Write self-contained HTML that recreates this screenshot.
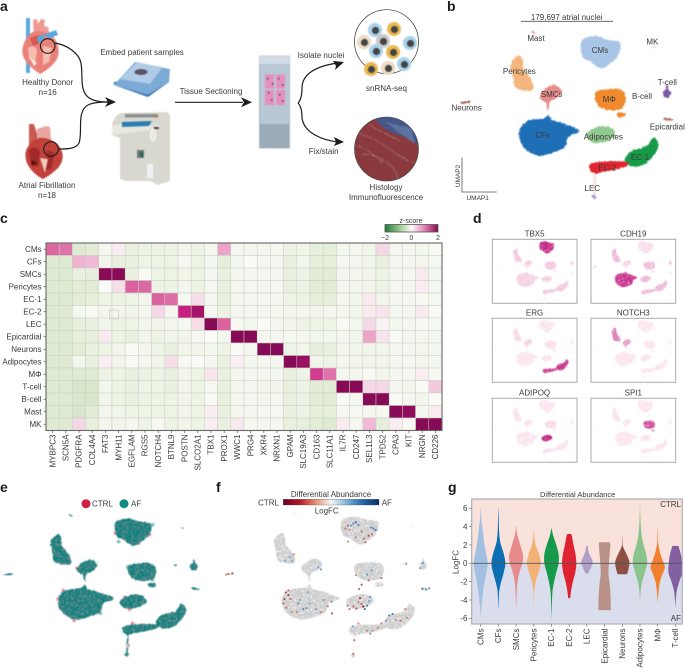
<!DOCTYPE html>
<html><head><meta charset="utf-8"><title>Atrial nuclei figure</title>
<style>
html,body{margin:0;padding:0;background:#fff}
svg{display:block;font-family:"Liberation Sans",sans-serif;fill:#333}
text{font-size:8px;fill:#3a3a3a}
.let{font-size:14px;font-weight:bold;fill:#1a1a1a}
</style></head>
<body>
<svg id="fig" width="685" height="668" viewBox="0 0 685 668" xmlns="http://www.w3.org/2000/svg">
<defs>
<filter id="soft" color-interpolation-filters="sRGB"><feGaussianBlur stdDeviation="0.45"/></filter>
<filter id="soft2" color-interpolation-filters="sRGB" x="-100%" y="-100%" width="300%" height="300%"><feGaussianBlur stdDeviation="0.8"/></filter>
<filter id="rough" color-interpolation-filters="sRGB" filterUnits="userSpaceOnUse" x="0" y="0" width="685" height="668"><feTurbulence type="fractalNoise" baseFrequency="0.4" numOctaves="2" seed="3" result="n"/><feDisplacementMap in="SourceGraphic" in2="n" scale="3" xChannelSelector="R" yChannelSelector="G"/><feGaussianBlur stdDeviation="0.4"/></filter>
<filter id="holes" color-interpolation-filters="sRGB" filterUnits="userSpaceOnUse" x="0" y="0" width="685" height="668"><feTurbulence type="fractalNoise" baseFrequency="0.55" numOctaves="2" seed="7"/><feColorMatrix type="matrix" values="0 0 0 0 0  0 0 0 0 0  0 0 0 0 0  7 0 0 0 -2.1" result="a"/><feComposite in="SourceGraphic" in2="a" operator="in" result="c"/><feGaussianBlur in="c" stdDeviation="0.4"/></filter>
<filter id="holesD" color-interpolation-filters="sRGB" filterUnits="userSpaceOnUse" x="0" y="0" width="685" height="668"><feTurbulence type="fractalNoise" baseFrequency="0.6" numOctaves="2" seed="5"/><feColorMatrix type="matrix" values="0 0 0 0 0  0 0 0 0 0  0 0 0 0 0  5 0 0 0 -1.1" result="a"/><feComposite in="SourceGraphic" in2="a" operator="in" result="c"/><feGaussianBlur in="c" stdDeviation="0.6"/></filter>
<filter id="mottle" color-interpolation-filters="sRGB" filterUnits="userSpaceOnUse" x="0" y="0" width="685" height="668"><feTurbulence type="fractalNoise" baseFrequency="0.45" numOctaves="2" seed="11" result="t"/><feColorMatrix in="t" type="matrix" values="0 0 0 0 .04  0 0 0 0 .5  0 0 0 0 .49  6 0 0 0 -2.3" result="m"/><feComposite in="m" in2="SourceAlpha" operator="in" result="m2"/><feMerge result="all"><feMergeNode in="SourceGraphic"/><feMergeNode in="m2"/></feMerge><feDisplacementMap in="all" in2="t" scale="2.5" xChannelSelector="R" yChannelSelector="G"/><feGaussianBlur stdDeviation="0.4"/></filter>
<linearGradient id="zgrad" x1="0" x2="1" y1="0" y2="0"><stop offset="0" stop-color="#1f7a35"/><stop offset=".25" stop-color="#8fc484"/><stop offset=".5" stop-color="#fbfbf8"/><stop offset=".75" stop-color="#e080b0"/><stop offset="1" stop-color="#870a56"/></linearGradient>
<linearGradient id="dagrad" x1="0" x2="1" y1="0" y2="0"><stop offset="0" stop-color="#67001f"/><stop offset=".17" stop-color="#b2182b"/><stop offset=".33" stop-color="#e58a6a"/><stop offset=".5" stop-color="#f7f7f7"/><stop offset=".67" stop-color="#74afd3"/><stop offset=".83" stop-color="#2166ac"/><stop offset="1" stop-color="#053061"/></linearGradient>
<clipPath id="histclip"><circle cx="386.5" cy="149" r="32"/></clipPath>
</defs>

<g>
<text class="let" x="0" y="11">a</text>
<text class="let" x="447" y="11">b</text>
<text class="let" x="0" y="223">c</text>
<text class="let" x="473" y="223">d</text>
<text class="let" x="0" y="492">e</text>
<text class="let" x="216" y="492">f</text>
<text class="let" x="448" y="492">g</text>
</g>

<g>
 <g filter="url(#soft)">
  <path d="M26 18h4v55h-4z" fill="#5aa9dc"/>
  <path d="M33 20l4-1 1 5 3-5 4 1-1 6 4 1 2 10-16 2z" fill="#ee9a92"/>
  <path d="M30 34C36 28 48 32 54 38C60 46 60 56 55 62C50 68 44 72 40 74C34 70 26 64 23 56C21 48 24 40 30 34Z" fill="#ea8179"/>
  <path d="M28 48c4-3 8-2 9 3l-2 12-6-4zM43 46l9 2-3 14-6 3z" fill="#f5bfb0"/>
  <path d="M30 58l7 5-3 3z" fill="#fff2e4"/>
  <path d="M30 38l8-3 2 8-7 3z" fill="#d65650"/>
  <path d="M37 37L56 30l2 5-20 8z" fill="#5aa9dc"/>
  <path d="M44 36l3 0 3 10-6 0z" fill="#ea8179"/>
 </g>
 <circle cx="47.7" cy="46" r="7.3" fill="none" stroke="#1c1c1c" stroke-width="1.1"/>
 <text x="47.7" y="85" text-anchor="middle">Healthy Donor</text>
 <text x="47.7" y="95" text-anchor="middle">n=16</text>

 <g filter="url(#soft)">
  <path d="M29 124l5 0 3 10 2 8-10 4z" fill="#c65a52"/>
  <path d="M37 129l9-3 4 1 1 13-14 3z" fill="#eaa69e"/>
  <path d="M33 141C42 134 54 140 59 146C65 154 63 162 58 168C53 173 47 177 43 179C35 175 28 168 26 160C24 152 27 146 33 141Z" fill="#c2423b"/>
  <path d="M29 150c5-4 10-3 11 3l-2 14-7-3zM47 150l8 3-4 16-5 1z" fill="#a12a2a"/>
  <path d="M40 158l8 1-3 14z" fill="#eecbb8"/>
  <path d="M31 160l7 3-6 3z" fill="#5e1111"/>
 </g>
 <circle cx="51" cy="149" r="7.3" fill="none" stroke="#1c1c1c" stroke-width="1.1"/>
 <text x="47" y="188" text-anchor="middle">Atrial Fibrillation</text>
 <text x="47" y="198" text-anchor="middle">n=18</text>

 <g fill="none" stroke="#1d1d1d" stroke-width="1.2">
  <path d="M55 43c12 2 24 10 26 20 2 12-1 24 5 32 3 4 9 7 22 7"/>
  <path d="M59 149c8 0 17 0 20-6 3-8 0-24 3-30 2-8 8-11 26-11"/>
 </g>
 <path d="M116 102l-11-5 3 5-3 5z" fill="#1d1d1d"/>

 <text x="142" y="55" text-anchor="middle">Embed patient samples</text>
 <g filter="url(#soft)">
  <path d="M114 85l34 12 21-15v-6l-55 6z" fill="#2d6db0"/>
  <path d="M114 85L135 62l35 7-1 13-21 13z" fill="#7baad6"/>
  <path d="M120 79L137 62l25 6-12 16z" fill="#afcbe6"/>
  <ellipse cx="141" cy="72" rx="6.5" ry="3" fill="#5e5366"/>
 </g>
 <g filter="url(#soft)">
  <path d="M112 125c1-6 5-11 9-12l44-1c3 0 5 2 5 5v64l-12 4-8-4h-24l-6-2v-41l-8-3z" fill="#d9d8d0"/>
  <path d="M112 125h48v4l-48 6z" fill="#e8e7e0"/>
  <path d="M122 122l30-1-3 5-27 1z" fill="#2d7db0"/>
  <path d="M125 114h33v3.500h-33z" fill="#8f9094"/>
  <path d="M137 150h7v8h-7z" fill="#6f7770"/><path d="M140 152h3v5h-3z" fill="#1d6a5e"/>
  <path d="M147 164h6v14h-6z" fill="#eef2f5"/>
  <ellipse cx="153" cy="135" rx="4.500" ry="8" fill="#ebeae3" stroke="#bdbcb4" stroke-width=".5"/>
  <path d="M154 127h5v2h-5z" fill="#444"/>
  <circle cx="157" cy="116" r="1.2" fill="#c6702e"/>
 </g>

 <text x="211" y="94" text-anchor="middle">Tissue Sectioning</text>
 <path d="M175 102.300h68" stroke="#1d1d1d" stroke-width="1.2"/>
 <path d="M252 102.300l-11-5 3 5-3 5z" fill="#1d1d1d"/>

 <g filter="url(#soft)">
  <rect x="259.500" y="56" width="30" height="92" fill="#b9c8d5" stroke="#8a9cab" stroke-width=".6"/>
  <path d="M259.500 56h30v8h-30z" fill="#d0dbe3"/>
  <rect x="259.500" y="124" width="30" height="24" fill="#9aabba"/>
  <rect x="265" y="74.500" width="9" height="14" fill="#e68fba"/>
  <rect x="276" y="74.500" width="9" height="14" fill="#e68fba"/>
  <rect x="265" y="90" width="9" height="15" fill="#e68fba"/>
  <rect x="276" y="90" width="9" height="15" fill="#e68fba"/>
  <path d="M267 78h1.500v1.500h-1.500zM272 83h1.500v1.500h-1.500zM278 78h1.500v1.500h-1.500zM282 84h1.500v1.500h-1.500zM268 92h1.500v1.500h-1.500zM271 99h1.500v1.500h-1.500zM279 94h1.500v1.500h-1.500zM282 100h1.500v1.500h-1.500z" fill="#3b3e86"/>
 </g>

 <g fill="none" stroke="#1d1d1d" stroke-width="1.2">
  <path d="M298 103c3-3 4-8 4-15 0-14 14-22 36-25"/>
  <path d="M298 103c3 3 4 8 4 15 2 15 20 22 36 24"/>
 </g>
 <path d="M344 62l-11-1 3 5-1 4z" fill="#1d1d1d"/>
 <path d="M344 142l-10-5 2 5-2 4z" fill="#1d1d1d"/>
 <text x="321" y="58" text-anchor="middle">Isolate nuclei</text>
 <text x="323.700" y="154" text-anchor="middle">Fix/stain</text>

 <circle cx="386.500" cy="41.700" r="32" fill="#fff" stroke="#333" stroke-width=".7"/>
 <g id="cells" filter="url(#soft)"></g>
 <text x="386.500" y="91" text-anchor="middle">snRNA-seq</text>

 <g clip-path="url(#histclip)">
  <g filter="url(#rough)">
  <rect x="350" y="112" width="74" height="74" fill="#8a3a3e"/>
  <path d="M368 112h56v38c-8-8-18-12-26-15-10-3-20-11-30-23z" fill="#45568a"/>
  <g fill="none" stroke="#c9b0b8" stroke-width=".6" stroke-opacity=".55">
   <path d="M355 132c14 4 26 10 36 18 8 6 18 12 28 14"/>
   <path d="M360 155c10-3 20 2 30 10 4 3 6 8 8 14"/>
   <path d="M370 125c8 6 20 10 30 16"/>
   <path d="M352 145c12 2 22 8 30 18"/>
  </g>
  <path d="M385 122l30 22-4-16z" fill="#7a8fb5" opacity=".5"/>
  </g>
 </g>
 <circle cx="386.500" cy="149" r="32" fill="none" stroke="#444" stroke-width=".6"/>
 <text x="386" y="190" text-anchor="middle">Histology</text>
 <text x="386" y="200" text-anchor="middle">Immunofluorescence</text>
</g>

<g>
 <text x="566.700" y="20" text-anchor="middle">179,697 atrial nuclei</text>
 <path d="M521 21.300h92" stroke="#555" stroke-width=".8"/>
 <g id="umapB" filter="url(#rough)"></g>
 <g id="umapBLabels"></g>
 <path d="M462 157.500V192h34.700" fill="none" stroke="#555" stroke-width=".8"/>
 <text x="477.700" y="200" text-anchor="middle" style="font-size:6.500px">UMAP1</text>
 <text transform="translate(460,176) rotate(-90)" text-anchor="middle" style="font-size:6.500px">UMAP2</text>
</g>

<g>
 <g id="heat"></g>
 <rect x="46" y="243" width="396" height="187.500" fill="none" stroke="#666" stroke-width="1.1"/>
 <g id="heatAxes"></g>
 <text x="411" y="223" text-anchor="middle" style="font-size:7px">z-score</text>
 <rect x="385" y="224.500" width="53" height="7.500" fill="url(#zgrad)" stroke="#555" stroke-width=".8"/>
 <text x="385" y="240" text-anchor="middle" style="font-size:7px">−2</text>
 <text x="411.500" y="240" text-anchor="middle" style="font-size:7px">0</text>
 <text x="438" y="240" text-anchor="middle" style="font-size:7px">2</text>
</g>

<g id="panelD"></g>

<g>
 <circle cx="86" cy="503.700" r="4.500" fill="#d11f45"/>
 <text x="92" y="506.500">CTRL</text>
 <circle cx="124" cy="503.700" r="4.500" fill="#0f8a85"/>
 <text x="131" y="506.500">AF</text>
 <g id="umapEAccents"></g>
 <g id="umapE" filter="url(#mottle)"></g>
</g>

<g>
 <text x="331" y="497" text-anchor="middle">Differential Abundance</text>
 <rect x="283.300" y="499.300" width="95.700" height="5.700" fill="url(#dagrad)" stroke="#444" stroke-width=".3"/>
 <text x="279" y="505.500" text-anchor="end">CTRL</text>
 <text x="381.700" y="505.500">AF</text>
 <text x="326.700" y="513.500" text-anchor="middle">LogFC</text>
 <g id="umapF" filter="url(#holes)"></g>
 <g id="umapFSpots"></g>
</g>

<g>
 <text x="577.700" y="497" text-anchor="middle" style="font-size:7.500px">Differential Abundance</text>
 <g id="violins"></g>
</g>
</svg>

<script>
// ---------- chart data ----------
const heatRows = ["CMs","CFs","SMCs","Pericytes","EC-1","EC-2","LEC","Epicardial","Neurons","Adipocytes","MΦ","T-cell","B-cell","Mast","MK"];
const heatGenes = ["MYBPC3","SCN5A","PDGFRA","COL4A4","FAT3","MYH11","EGFLAM","RGS5","NOTCH4","BTNL9","POSTN","SLCO2A1","TBX1","PROX1","WWC1","PRG4","XKR4","NRXN1","GPAM","SLC19A3","CD163","SLC11A1","IL7R","CD247","SEL1L3","TPD52","CPA3","KIT","NRGN","CD226"];
const heatValues = [
[1.15,1.05,-.4,-.35,-.1,.12,-.25,-.2,-.2,-.2,-.12,-.2,-.1,.65,-.1,-.1,-.1,-.08,-.2,-.15,-.3,-.3,-.1,-.1,-.15,.3,-.1,-.1,-.12,-.05],
[-.4,-.4,.55,.5,-.15,-.25,-.25,-.2,-.2,-.2,-.08,-.2,-.1,-.3,-.1,-.02,-.1,-.1,-.25,-.15,-.3,-.3,-.1,-.1,-.15,-.25,-.1,-.1,-.12,-.08],
[-.4,-.4,-.25,-.3,1.98,1.98,-.25,-.05,-.2,-.2,-.15,-.2,-.1,-.25,-.1,-.1,-.1,-.1,-.25,-.2,-.35,-.35,-.1,-.12,-.15,-.2,-.1,-.1,.15,-.1],
[-.4,-.4,-.35,-.35,-.02,.25,1.2,1.15,-.2,-.2,-.12,-.2,-.1,-.25,-.1,-.1,-.1,-.1,-.25,-.2,-.35,-.35,-.1,-.12,-.15,-.2,-.1,-.1,.12,-.1],
[-.4,-.4,-.35,-.3,-.2,-.2,-.2,-.12,1.2,1.1,-.08,.25,-.1,-.25,-.1,-.1,-.1,-.1,-.2,-.2,-.3,-.3,-.1,-.15,.15,-.15,-.1,-.1,-.05,-.08],
[-.4,-.4,-.08,-.05,-.1,-.1,-.15,-.1,.3,-.1,1.65,1.85,-.1,-.2,-.1,-.1,-.1,-.1,-.12,-.08,-.12,-.1,-.1,-.15,.15,.2,-.1,-.1,.15,-.05],
[-.4,-.4,-.3,-.25,-.15,-.2,-.2,-.12,-.15,-.12,-.08,.25,2,1.2,-.05,-.1,-.02,-.1,-.15,-.2,-.2,-.2,-.03,-.12,.3,.08,-.1,-.1,-.05,-.08],
[-.4,-.4,-.3,-.3,.15,-.2,-.25,-.15,-.2,-.15,-.15,-.08,-.02,-.1,2,2,-.1,-.1,-.08,-.08,-.12,-.12,-.1,-.15,.65,.2,-.03,-.12,-.1,-.1],
[-.4,-.4,-.35,-.25,-.2,-.15,-.02,-.1,-.2,-.25,-.15,-.15,-.1,-.2,-.03,-.1,2,2,-.2,-.15,-.3,-.25,-.12,-.15,-.15,-.15,-.1,-.1,-.12,-.1],
[-.4,-.4,-.12,-.25,.1,-.15,-.05,-.1,-.15,.25,-.05,.02,-.1,-.25,.1,-.1,-.1,-.1,2,1.9,-.15,-.2,-.1,-.15,-.15,-.15,-.1,-.1,-.12,-.1],
[-.4,-.4,-.4,-.4,-.2,-.2,-.25,-.22,-.2,-.25,-.15,-.2,.2,-.25,-.1,-.1,-.1,-.1,-.25,-.2,1.45,1.05,-.1,-.12,-.04,-.15,-.1,-.1,.12,-.06],
[-.4,-.4,-.45,-.45,-.12,-.2,-.25,-.2,-.2,-.25,-.15,-.2,-.08,-.25,-.1,-.1,-.15,-.15,-.25,-.2,-.35,-.35,2,2,.3,.3,-.1,-.12,-.03,.4],
[-.4,-.4,-.45,-.45,-.15,-.2,-.25,-.2,-.2,-.2,-.15,-.2,-.05,-.25,-.1,-.1,-.12,-.1,-.25,-.2,-.35,-.35,-.03,-.08,2,2,-.03,-.1,-.12,-.02],
[-.4,-.4,-.45,-.35,-.12,-.15,-.2,-.2,-.2,-.2,-.15,-.2,.12,-.25,-.1,-.1,-.08,-.08,-.25,-.2,-.3,-.3,-.06,-.04,-.1,-.08,2,1.95,-.1,.12],
[-.4,-.4,.3,-.3,-.12,-.15,-.1,-.2,-.06,-.2,-.15,-.2,.12,-.25,.15,-.08,-.1,-.1,-.25,-.3,-.35,-.4,.12,-.1,.5,-.3,.12,-.06,2,2]
];
const heatScale = [[-2,"#1f7a35"],[-1,"#8fc484"],[-.4,"#dfead2"],[0,"#fbfbf8"],[.3,"#f5d8e6"],[.6,"#eeaacd"],[1.2,"#d9629f"],[1.65,"#c82080"],[2,"#870a56"]];

// cluster outlines in UMAP space
const umapShapes = [
 {name:"LEC-tail",color:"#f6d9d9",pts:[[462,525],[467,525],[465,585],[461,585]]},
 {name:"CMs",color:"#a9c5e6",pts:[[425,122],[465,108],[500,118],[540,128],[535,165],[510,190],[482,205],[450,183],[428,170]]},
 {name:"Pericytes",color:"#f4b57e",pts:[[236,165],[248,180],[250,205],[274,240],[278,270],[245,270],[225,260],[218,225],[213,190]]},
 {name:"SMCs",color:"#e58c8c",pts:[[305,275],[340,255],[365,272],[350,295],[330,305],[325,335],[318,310],[300,295]]},
 {name:"Mast",color:"#e377b0",pts:[[274,93],[285,99],[283,101],[274,96]]},
 {name:"Neurons",color:"#8f4a3c",pts:[[62,307],[90,303],[85,308],[65,310]]},
 {name:"CFs",color:"#1f6fb7",pts:[[240,385],[265,362],[310,355],[325,345],[335,360],[370,370],[418,392],[385,410],[375,440],[345,455],[300,467],[260,450],[240,420]]},
 {name:"MΦ",color:"#f08a2c",pts:[[470,275],[500,268],[545,270],[558,295],[545,325],[510,330],[480,322],[465,295]]},
 {name:"MΦ-tail",color:"#f08a2c",pts:[[530,340],[550,337],[556,348],[537,352]]},
 {name:"Adipocytes",color:"#8fc98f",pts:[[445,395],[480,378],[515,385],[525,405],[495,425],[460,428],[440,410]]},
 {name:"EC-1",color:"#169a48",pts:[[555,480],[575,452],[615,440],[630,425],[640,412],[655,430],[645,460],[610,495],[575,498]]},
 {name:"EC-2",color:"#e2242f",pts:[[450,495],[480,485],[560,485],[555,500],[520,510],[490,515],[465,522],[450,510]]},
 {name:"LEC",color:"#a99ac8",pts:[[454,590],[464,584],[468,595],[460,598]]},
 {name:"T-cell",color:"#7a57a5",pts:[[668,275],[677,266],[680,250],[685,265],[693,278],[685,292],[672,290]]},
 {name:"B-cell",color:"#e58cae",pts:[[616,272],[625,273],[622,277],[617,276]]},
 {name:"Epicardial",color:"#b87566",pts:[[672,354],[700,358],[690,362],[675,360]]},
 {name:"MK",color:"#d9a0c0",pts:[[640,141],[647,141],[644,144]]}
];
const umapLabels = [["Mast",288,115],["MK",637,125],["CMs",480,150],["Pericytes",238,213],["T-cell",682,247],["SMCs",335,282],["MΦ",508,297],["B-cell",606,288],["Neurons",80,323],["CFs",308,405],["Adipocytes",490,410],["Epicardial",682,380],["EC-1",600,472],["EC-2",502,503],["LEC",457,564]];

// gene expression intensity per cluster (0-1)
const geneNames = ["TBX5","CDH19","ERG","NOTCH3","ADIPOQ","SPI1"];
const geneIntensity = [
 {"CMs":1,"Pericytes":.3,"SMCs":.25,"Mast":.2,"Neurons":.2,"CFs":.25,"MΦ":.3,"MΦ-tail":.2,"Adipocytes":.28,"EC-1":.3,"EC-2":.3,"LEC":.2,"T-cell":.3,"B-cell":.2,"Epicardial":.3,"MK":.1},
 {"CMs":.15,"Pericytes":.4,"SMCs":.25,"Mast":.2,"Neurons":.6,"CFs":.95,"MΦ":.35,"MΦ-tail":.2,"Adipocytes":.4,"EC-1":.4,"EC-2":.4,"LEC":.2,"T-cell":.4,"B-cell":.2,"Epicardial":.4,"MK":.1},
 {"CMs":.08,"Pericytes":.2,"SMCs":.25,"Mast":.2,"Neurons":.2,"CFs":.08,"MΦ":.15,"MΦ-tail":.15,"Adipocytes":.12,"EC-1":.95,"EC-2":.9,"LEC":.4,"T-cell":.1,"B-cell":.1,"Epicardial":.1,"MK":.1},
 {"CMs":.06,"Pericytes":.7,"SMCs":.55,"Mast":.1,"Neurons":.15,"CFs":.07,"MΦ":.08,"MΦ-tail":.08,"Adipocytes":.07,"EC-1":.09,"EC-2":.09,"LEC":.1,"T-cell":.08,"B-cell":.1,"Epicardial":.1,"MK":.1},
 {"CMs":.07,"Pericytes":.12,"SMCs":.12,"Mast":.1,"Neurons":.15,"CFs":.08,"MΦ":.18,"MΦ-tail":.1,"Adipocytes":1,"EC-1":.12,"EC-2":.12,"LEC":.15,"T-cell":.15,"B-cell":.1,"Epicardial":.15,"MK":.1},
 {"CMs":.06,"Pericytes":.1,"SMCs":.1,"Mast":.1,"Neurons":.1,"CFs":.07,"MΦ":.85,"MΦ-tail":.6,"Adipocytes":.1,"EC-1":.08,"EC-2":.08,"LEC":.1,"T-cell":.12,"B-cell":.1,"Epicardial":.12,"MK":.1}
];

// condition accents in panel e: [x,y,condition]
const condAccents = [[432,128,"CTRL"],[425,160,"CTRL"],[535,165,"CTRL"],[545,130,"AF"],[500,195,"CTRL"],[435,190,"AF"],[255,365,"CTRL"],[238,395,"CTRL"],[245,425,"CTRL"],[290,470,"CTRL"],[410,392,"AF"],[375,445,"AF"],[350,375,"CTRL"],[455,390,"CTRL"],[470,430,"CTRL"],[520,405,"AF"],[480,482,"CTRL"],[510,488,"CTRL"],[455,508,"AF"],[640,420,"AF"],[465,280,"AF"],[545,325,"AF"],[238,170,"AF"],[230,252,"AF"],[352,262,"AF"],[300,285,"CTRL"],[465,560,"CTRL"],[550,345,"AF"]];

// differential abundance spots for panel f: [x,y,logFC]
const daSpots = [[462,132,4],[470,128,5],[478,138,4],[455,140,3],[525,149,5],[532,155,5],[518,146,4],[445,140,-3],[437,150,-3],[450,155,-2],[495,185,-3],[510,175,-4],[520,170,-3],[500,198,-3],[488,160,-3],[470,180,-2],[445,195,-2],[262,250,2],[248,262,2],[275,240,-2],[270,262,2],[360,292,3],[352,285,2],
[258,381,-5],[250,372,-5],[246,395,-4],[242,410,-3],[252,425,-3],[265,395,-3],[268,440,-2],[289,410,3],[295,398,2],[315,427,3],[325,410,2],[305,430,4],[320,372,2],[394,404,3],[382,420,-2],[395,445,-4],[345,430,2],[360,440,-2],[370,398,2],[285,440,-2],[258,365,-3],
[462,421,-3],[472,428,-4],[450,430,-3],[483,392,-5],[493,421,-6],[505,418,4],[498,430,5],[512,402,3],[515,388,3],[488,412,-3],[478,405,-2],[444,418,-3],[480,360,-3],[488,345,-4],
[575,452,5],[585,447,5],[565,470,3],[595,468,-2],[610,470,-3],[625,430,-2],[630,460,-2],[522,505,-2],[505,505,-2],[515,515,3],[460,490,2],[478,480,-2],[540,495,-2],[550,480,-3],[465,538,-3],[462,585,-3],
[520,295,3],[505,310,3],[510,330,-3],[550,322,-3],[470,312,-2],[680,270,3],[672,288,2],[628,272,3],[679,360,4],[690,362,4],[700,358,3],[82,306,-4],[70,308,-3],[63,310,-2]];

// violin plot
const violinCats = ["CMs","CFs","SMCs","Pericytes","EC-1","EC-2","LEC","Epicardial","Neurons","Adipocytes","MΦ","T-cell"];
const violinColors = ["#a1bfe0","#0a6fb3","#e78a8c","#f4b176","#17994b","#de2231","#b09fc9","#ba9186","#8b5040","#8bc38c","#f27f2d","#825fa0"];
const violinProfiles = [
 [[6.2,.01],[5,.06],[4,.18],[3,.3],[2,.45],[1,.65],[0,.8],[-1,.65],[-2,.45],[-3,.28],[-4,.16],[-5,.06],[-5.9,.01]],
 [[6,.01],[5.3,.03],[3.5,.08],[2.5,.18],[2,.3],[1,.62],[0,.8],[-1,.62],[-2,.32],[-3,.1],[-4,.04],[-5,.01]],
 [[4.1,.01],[3.2,.12],[2,.48],[1,.78],[.5,.8],[0,.72],[-1,.38],[-2,.16],[-3,.07],[-4,.04],[-5,.01]],
 [[3.7,.02],[2.5,.1],[1.5,.4],[1,.6],[0,.8],[-1,.55],[-2,.22],[-3,.06],[-4,.02],[-5.3,.005]],
 [[3.8,.02],[3,.2],[2,.55],[1,.82],[0,.82],[-1,.55],[-2,.3],[-3,.12],[-4,.06],[-5,.03],[-6,.005]],
 [[3.2,.2],[3,.3],[2,.5],[1,.72],[0,.82],[-1,.7],[-2,.42],[-3,.22],[-3.8,.12]],
 [[1.9,.08],[1.3,.18],[.8,.38],[.4,.6],[0,.65],[-.4,.5],[-.8,.3],[-1.1,.2]],
 [[2.3,.6],[2,.66],[1,.58],[0,.5],[-1,.44],[-2,.55],[-3,.65],[-4,.7],[-5.1,.72]],
 [[2.9,.015],[2,.04],[1.6,.18],[1,.48],[.4,.75],[0,.82],[-.6,.72],[-1.2,.55]],
 [[6.4,.01],[5,.05],[4,.1],[3,.2],[2,.42],[1,.72],[0,.82],[-1,.55],[-2,.25],[-3,.08],[-4.1,.015]],
 [[3.9,.01],[3,.03],[2.2,.06],[1,.32],[0,.7],[-.5,.82],[-1,.62],[-2,.26],[-3,.1],[-4.2,.01]],
 [[1.9,.35],[1,.62],[0,.76],[-1,.8],[-2,.45],[-3,.16],[-4,.05],[-4.8,.01]]
];
const violinTicks = [6,4,2,0,-2,-4,-6];

// snRNA cell illustration data
const cellList = [[375,30,"#a8d3ec"],[394,29,"#edb84a"],[364,42,"#eedcc4"],[383,41,"#c9c9c9"],[410,43,"#a8d3ec"],[376,51,"#a8d3ec"],[393,52,"#edb84a"],[371,69,"#edb84a"],[388,68,"#eedcc4"],[404,64,"#a8d3ec"]];

// ---------- helpers ----------
const NS = "http://www.w3.org/2000/svg";
function mk(tag, parent, attrs, txt){
 const e = document.createElementNS(NS, tag);
 for (const k in attrs) e.setAttribute(k, attrs[k]);
 if (txt !== undefined) e.textContent = txt;
 parent.appendChild(e);
 return e;
}
function hex(c){return [1,3,5].map(i=>parseInt(c.substr(i,2),16));}
function lerpColor(a,b,t){const A=hex(a),B=hex(b);return "rgb("+A.map((v,i)=>Math.round(v+(B[i]-v)*t)).join(",")+")";}
function heatColor(v){
 for(let i=1;i<heatScale.length;i++){
  if(v<=heatScale[i][0]){const[a,ca]=heatScale[i-1],[b,cb]=heatScale[i];return lerpColor(ca,cb,(v-a)/(b-a));}
 }
 return heatScale[heatScale.length-1][1];
}
function closedSpline(p){
 const n=p.length;let d="M"+p[0][0].toFixed(2)+" "+p[0][1].toFixed(2);
 for(let i=0;i<n;i++){
  const a=p[(i-1+n)%n],b=p[i],c=p[(i+1)%n],e=p[(i+2)%n];
  d+="C"+(b[0]+(c[0]-a[0])/6).toFixed(2)+" "+(b[1]+(c[1]-a[1])/6).toFixed(2)+" "+(c[0]-(e[0]-b[0])/6).toFixed(2)+" "+(c[1]-(e[1]-b[1])/6).toFixed(2)+" "+c[0].toFixed(2)+" "+c[1].toFixed(2);
 }
 return d+"Z";
}
function openSpline(p){
 let d="";
 for(let i=0;i<p.length-1;i++){
  const a=p[Math.max(i-1,0)],b=p[i],c=p[i+1],e=p[Math.min(i+2,p.length-1)];
  d+="C"+(b[0]+(c[0]-a[0])/6).toFixed(2)+" "+(b[1]+(c[1]-a[1])/6).toFixed(2)+" "+(c[0]-(e[0]-b[0])/6).toFixed(2)+" "+(c[1]-(e[1]-b[1])/6).toFixed(2)+" "+c[0].toFixed(2)+" "+c[1].toFixed(2);
 }
 return d;
}
function projector(x0,sx,y0,sy){return p=>[x0+sx*(p[0]-75),y0+sy*(p[1]-155)];}

// ---------- snRNA cells ----------
const cellsG=document.getElementById("cells");
cellList.forEach(c=>{
 const o=mk("circle",cellsG,{cx:c[0],cy:c[1],r:7,fill:c[2],stroke:"#d7d7d7","stroke-width":".3"});
 
 
 const n=mk("circle",cellsG,{cx:c[0]+.5,cy:c[1]+.5,r:3.6,fill:"#444"});
 
 
});

// ---------- panel b ----------
const projB=projector(465,1/3,51.7,1/3);
const gB=document.getElementById("umapB");
umapShapes.forEach(s=>{
 const e=mk("path",gB,{d:closedSpline(s.pts.map(projB)),fill:s.color});
 
 
});
const gBL=document.getElementById("umapBLabels");
umapLabels.forEach(l=>{
 const t=mk("text",gBL,{x:440+l[1]/3,y:l[2]/3+2.8,"text-anchor":"middle"},l[0]);
 
 
});

// ---------- panel c ----------
const hX=i=>46+i*13.2, hY=j=>243+j*12.5;
const gH=document.getElementById("heat"), gHA=document.getElementById("heatAxes");
heatValues.forEach((row,j)=>row.forEach((v,i)=>{
 const r=mk("rect",gH,{x:hX(i),y:hY(j),width:13.2,height:12.5,fill:heatColor(v),stroke:"#c9cfc4","stroke-width":".5"});
 
 
}));
heatRows.forEach((n,j)=>{
 const t=mk("text",gHA,{x:41.5,y:hY(j)+9,"text-anchor":"end"},n);
 
 
 const k=mk("line",gHA,{x1:43.5,x2:46,y1:hY(j)+6.25,y2:hY(j)+6.25,stroke:"#555","stroke-width":".7"});
 
 
});
heatGenes.forEach((n,i)=>{
 const cx=hX(i)+6.6;
 const t=mk("text",gHA,{transform:"translate("+(cx+2.7)+",434.5) rotate(-90)","text-anchor":"end"},n);
 
 
 const k=mk("line",gHA,{x1:cx,x2:cx,y1:430.5,y2:433,stroke:"#555","stroke-width":".7"});
 
 
});
const sel=mk("rect",gHA,{x:109.5,y:310,width:9,height:9,fill:"none",stroke:"#c5cabf","stroke-width":".7"});



// ---------- panel d ----------
const gD=document.getElementById("panelD");
const frameX=[492.3,591], frameY=[239.3,318.3,398.3];
geneNames.forEach((name,g)=>{
 const fx=frameX[g%2], fy=frameY[Math.floor(g/2)];
 const t=mk("text",gD,{x:fx+42.3,y:fy-2.6,"text-anchor":"middle",style:"font-size:8px"},name);
 
 
 const fr=mk("rect",gD,{x:fx,y:fy,width:84.7,height:64,fill:"#fff",stroke:"#a9a9a9","stroke-width":"1"});
 
 
 const proj=projector(fx+3.67,.125,fy+8,.128);
 const grp=mk("g",gD,{filter:"url(#holesD)"});
 
 
 umapShapes.forEach(s=>{
  const iv=geneIntensity[g][s.name]||0;
  const col=lerpColor("#fce9f1","#c42a86",Math.pow(iv,1.5));
  const e=mk("path",grp,{d:closedSpline(s.pts.map(proj)),fill:col});
  
  
 });
});

// ---------- panel e ----------
const projE=projector(8.3,.3067,531.7,.281);
const gE=document.getElementById("umapE");
const gEA=document.getElementById("umapEAccents");
condAccents.forEach(c=>{
 const p=projE(c);
 const e=mk("circle",gEA,{cx:p[0],cy:p[1],r:1.8,fill:c[2]==="CTRL"?"#d11f45":"#0f8a85",opacity:.6,filter:"url(#soft2)"});
 
 
});
umapShapes.forEach(s=>{
 const d=closedSpline(s.pts.map(projE));
 const e=mk("path",gE,{d:d,fill:s.name==="LEC-tail"?"#e6d8da":"#6b8c8e"});
 
 
});

// ---------- panel f ----------
const projF=projector(230,.3187,530,.2877);
const gF=document.getElementById("umapF");
const gFS=document.getElementById("umapFSpots");
umapShapes.forEach(s=>{
 const e=mk("path",gF,{d:closedSpline(s.pts.map(projF)),fill:s.name==="LEC-tail"?"#f2f2f2":"#cdcdcd"});
 
 
});
function daColor(v){
 return v<0 ? lerpColor("#f2b79a","#8f0f25",Math.min(1,-v/6)) : lerpColor("#9cc8e2","#1f5fa8",Math.min(1,v/6));
}
daSpots.forEach(s=>{
 const p=projF(s);
 const e=mk("rect",gFS,{x:p[0]-.9,y:p[1]-.9,width:1.8,height:1.8,fill:daColor(s[2])});
 
 
});

// ---------- panel g ----------
const gV=document.getElementById("violins");
const pL=471.7,pR=682.3,pT=499,pB=624;
const yG=v=>563.3-v*9.17, xG=i=>480.7+i*17.7, wG=w=>w*8.7;
const bgTop=mk("rect",gV,{x:pL,y:pT,width:pR-pL,height:yG(0)-pT,fill:"#f9e2dc"});


const bgBot=mk("rect",gV,{x:pL,y:yG(0),width:pR-pL,height:pB-yG(0),fill:"#dadeec"});


violinProfiles.forEach((prof,i)=>{
 const cx=xG(i);
 const right=prof.map(q=>[cx+wG(q[1]),yG(q[0])]);
 const left=prof.slice().reverse().map(q=>[cx-wG(q[1]),yG(q[0])]);
 const d="M"+right[0][0]+" "+right[0][1]+openSpline(right)+"L"+left[0][0]+" "+left[0][1]+openSpline(left)+"Z";
 const e=mk("path",gV,{d:d,fill:violinColors[i]});
 
 
 const k=mk("line",gV,{x1:cx,x2:cx,y1:pB,y2:pB+2.5,stroke:"#555","stroke-width":".7"});
 
 
 const t=mk("text",gV,{transform:"translate("+(cx+2.7)+",628.5) rotate(-90)","text-anchor":"end"},violinCats[i]);
 
 
});
const zero=mk("line",gV,{x1:pL,x2:pR,y1:yG(0),y2:yG(0),stroke:"#555","stroke-width":".9"});


violinTicks.forEach(v=>{
 const k=mk("line",gV,{x1:pL-2.5,x2:pL,y1:yG(v),y2:yG(v),stroke:"#555","stroke-width":".7"});
 
 
 const t=mk("text",gV,{x:467.5,y:yG(v)+2.8,"text-anchor":"end"},v);
 
 
});
const fr=mk("rect",gV,{x:pL,y:pT,width:pR-pL,height:pB-pT,fill:"none",stroke:"#a8a8ae","stroke-width":"1.1"});


const yT=mk("text",gV,{transform:"translate(458.5,562) rotate(-90)","text-anchor":"middle"},"LogFC");


const cT=mk("text",gV,{x:681,y:507,"text-anchor":"end"},"CTRL");


const aT=mk("text",gV,{x:681,y:621,"text-anchor":"end"},"AF");


</script>
</body></html>
